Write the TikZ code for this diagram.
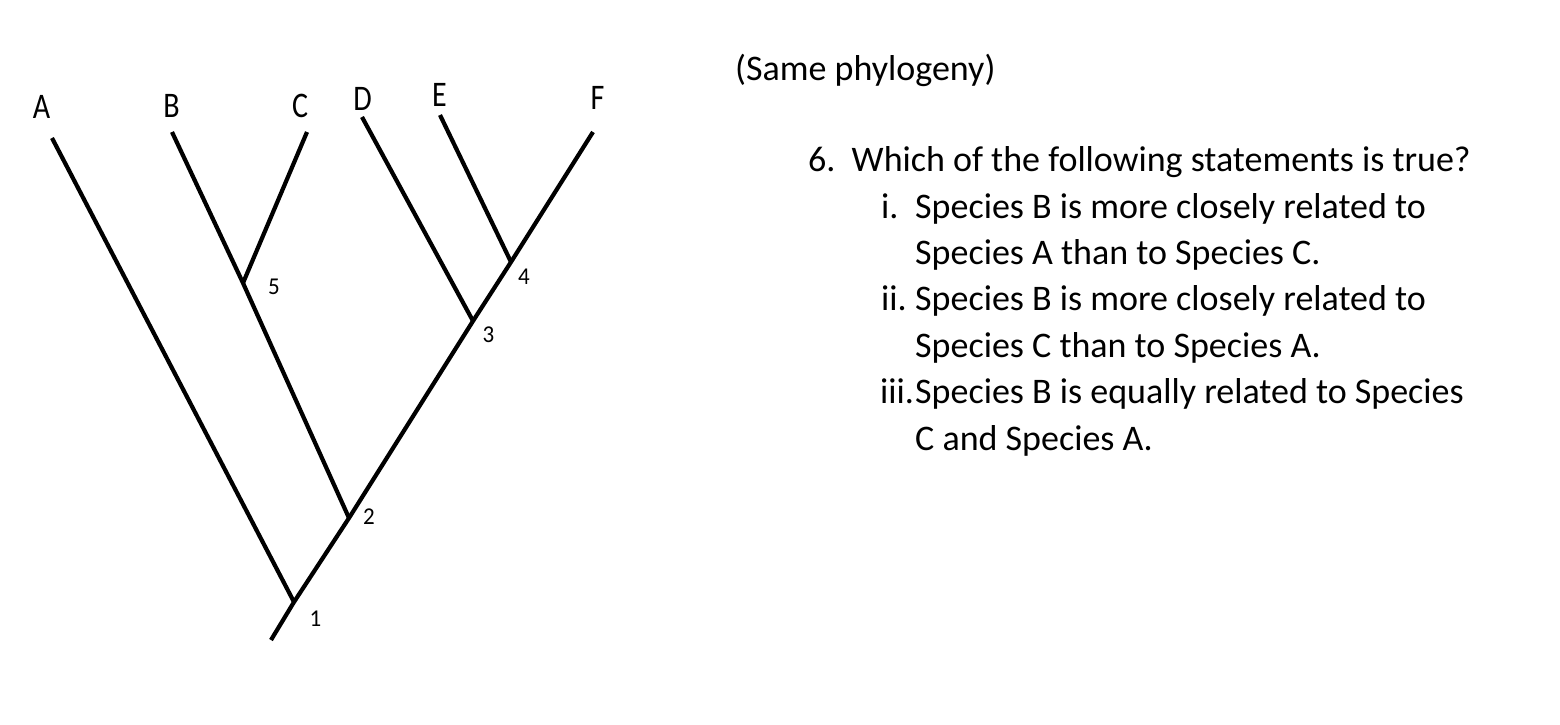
\documentclass[tikz,border=0pt]{standalone}
\usepackage{fontspec}
\setmainfont{Carlito}
\usepackage{tikz}
\tikzstyle{branch} = [line width=4.2pt, black]
\tikzstyle{taxon} = [inner sep=0pt, yscale=1.2, transform shape, font=\fontsize{30}{36}\selectfont]
\tikzstyle{clade} = [inner sep=0pt, yscale=1.05, transform shape, font=\fontsize{23}{27}\selectfont]
\tikzstyle{question} = [inner sep=0pt, anchor=base west, font=\fontsize{36}{44}\selectfont]

\begin{document}
\begin{tikzpicture}[x = 1pt, y = -1pt]

\useasboundingbox (0,0) rectangle (1560,724);

% ----------------------------------------------------

% helper grid (comment out once you're done!)
%\draw[help lines,step=10,thin,gray!20] (0,0) grid (1560, 724);
%\draw[help lines,step=100,gray!40,very thick] (0,0) grid (1560, 724);
%
% ----------------------------------------------------

% tree: root, inner nodes and tips
  \coordinate (root) at (271,640);
  \coordinate (n1) at (294,602);
  \coordinate (n2) at (349,518);
  \coordinate (n3) at (473,321);
  \coordinate (n4) at (511,262);
  \coordinate (n5) at (243,283);

  \coordinate (tipA) at (52,138);
  \coordinate (tipB) at (172,132);
  \coordinate (tipC) at (307,132);
  \coordinate (tipD) at (362,117);
  \coordinate (tipE) at (440,115);
  \coordinate (tipF) at (593,132);

  \draw[branch] (root) -- (n1) -- (n2) -- (n3) -- (n4) -- (tipF);
  \draw[branch] (n1) -- (tipA);
  \draw[branch] (n2) -- (n5) -- (tipB);
  \draw[branch] (n5) -- (tipC);
  \draw[branch] (n3) -- (tipD);
  \draw[branch] (n4) -- (tipE);

% species labels
  \node (labA) [taxon] at (41.5,106.5) {A};
  \node (labB) [taxon] at (171.5,106) {B};
  \node (labC) [taxon] at (300,106) {C};
  \node (labD) [taxon] at (362.5,99) {D};
  \node (labE) [taxon] at (439.5,94.5) {E};
  \node (labF) [taxon] at (597.5,97.5) {F};

% node numbers
  \node (num1) [clade] at (315.5,619) {1};
  \node (num2) [clade] at (369,517) {2};
  \node (num3) [clade] at (488.5,335) {3};
  \node (num4) [clade] at (524,277) {4};
  \node (num5) [clade] at (274,287) {5};

% question text
  \node (same) [question] at (735,80) {(Same phylogeny)};
  \node (qnum) [question] at (808,171.5) {6.};
  \node (qtext) [question] at (851.5,171.5) {Which of the following statements is true?};
  \node (opt1) [question] at (881,218) {i.};
  \node (opt1a) [question] at (915,218) {Species B is more closely related to};
  \node (opt1b) [question] at (915,264.3) {Species A than to Species C.};
  \node (opt2) [question] at (881,310.7) {ii.};
  \node (opt2a) [question] at (915,310.7) {Species B is more closely related to};
  \node (opt2b) [question] at (915,357.1) {Species C than to Species A.};
  \node (opt3) [question] at (880,403.5) {iii.};
  \node (opt3a) [question] at (915,403.5) {Species B is equally related to Species};
  \node (opt3b) [question] at (915,450) {C and Species A.};

\end{tikzpicture}
\end{document}
